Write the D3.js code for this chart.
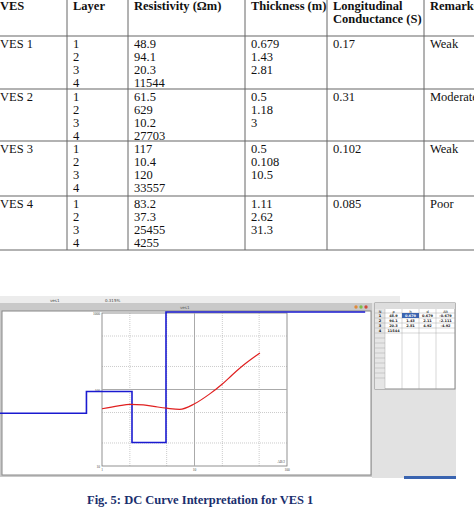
<!DOCTYPE html>
<html><head><meta charset="utf-8">
<script src="https://cdn.jsdelivr.net/npm/d3@7"></script>
<style>body{margin:0;background:#fff}svg{display:block}</style>
</head><body>
<svg id="c" width="474" height="509"></svg>
<script>
// ---- data ----
const tableHeaders = ["VES","Layer","Resistivity (Ωm)","Thickness (m)","Longitudinal|Conductance (S)","Remarks"];
const vesNames = ["VES 1","VES 2","VES 3","VES 4"];
const layerIds = ["1","2","3","4"];
const resistivity = [["48.9","94.1","20.3","11544"],["61.5","629","10.2","27703"],["117","10.4","120","33557"],["83.2","37.3","25455","4255"]];
const thickness = [["0.679","1.43","2.81"],["0.5","1.18","3"],["0.5","0.108","10.5"],["1.11","2.62","31.3"]];
const conductance = ["0.17","0.31","0.102","0.085"];
const remarks = ["Weak","Moderate","Weak","Poor"];
// VES1 model (layer rho and bottom depth)
const modelRho = [48.9, 94.1, 20.3, 11544];
const modelDepth = [0.679, 2.11, 4.92];
// apparent resistivity curve
const curveAB = [1,1.5,2,2.8,4,5,6.9,10,14.5,20,25.7,35,51];
const curveRho = [56,61,64,63,59,57,55,65,87,118,156,215,300];
const xTicks = [1,10,100];
const yTicks = [10,100,1000];
const gridX = [2,5,20,50];
const gridY = [20,50,200,500];
const panelCols = ["ρ","h","d","Alt"];
const panelRows = [["48.9","0.679","0.679","-0.679"],["94.1","1.43","2.11","-2.111"],["20.3","2.81","4.92","-4.92"],["11544","","",""]];
const caption = "Fig. 5: DC Curve Interpretation for VES 1";

const svg = d3.select("#c");
const serif = "'Liberation Serif','Times New Roman',serif";

// ---- table ----
const colX = [0,67,128,245,327,424,474];
const rowY = [0,36,89,141,196,250];
const tg = svg.append("g").attr("font-family",serif).attr("font-size",12.5).attr("fill","#111");
[36,89,141,196,250].forEach(y=>tg.append("line").attr("x1",0).attr("x2",474).attr("y1",y).attr("y2",y).attr("stroke","#666").attr("stroke-width",1.2));
colX.slice(1,6).forEach(x=>tg.append("line").attr("x1",x).attr("x2",x).attr("y1",0).attr("y2",250).attr("stroke","#666").attr("stroke-width",1));
tableHeaders.forEach((h,i)=>{
  h.split("|").forEach((t,k)=>tg.append("text").attr("x",colX[i]+(i?6:0)).attr("y",10+k*13).attr("font-weight","bold").text(t));
});
vesNames.forEach((v,r)=>{
  const y0=rowY[r+1]+12;
  tg.append("text").attr("x",0).attr("y",y0).text(v);
  layerIds.forEach((l,k)=>tg.append("text").attr("x",73).attr("y",y0+k*13).text(l));
  resistivity[r].forEach((t,k)=>tg.append("text").attr("x",134).attr("y",y0+k*13).text(t));
  thickness[r].forEach((t,k)=>tg.append("text").attr("x",251).attr("y",y0+k*13).text(t));
  tg.append("text").attr("x",333).attr("y",y0).text(conductance[r]);
  tg.append("text").attr("x",430).attr("y",y0).text(remarks[r]);
});

// ---- software screenshot ----
const sg = svg.append("g");
sg.append("rect").attr("x",0).attr("y",296).attr("width",400).attr("height",7).attr("fill","#ececec");
sg.append("text").attr("x",50).attr("y",302).attr("font-size",4).attr("font-family","DejaVu Sans").attr("fill","#444").text("ves1");
sg.append("text").attr("x",105).attr("y",302).attr("font-size",4).attr("font-family","DejaVu Sans").attr("fill","#444").text("0.315%");
sg.append("rect").attr("x",372).attr("y",303).attr("width",84).attr("height",175).attr("fill","#e2e2e2");
// window
sg.append("rect").attr("x",0).attr("y",303).attr("width",372).attr("height",174).attr("fill","#c9c9c9");
sg.append("rect").attr("x",2).attr("y",311).attr("width",369).attr("height",164).attr("fill","#fff").attr("stroke","#888");
[["#e08a3a",356],["#7cbf4a",361],["#d04a3a",366]].forEach(([c,x])=>sg.append("circle").attr("cx",x).attr("cy",307).attr("r",1.7).attr("fill",c));
sg.append("text").attr("x",180).attr("y",309).attr("font-size",4).attr("font-family","DejaVu Sans").attr("fill","#555").text("ves1");

const x = d3.scaleLog().domain([1,100]).range([102,287]);
const y = d3.scaleLog().domain([10,1000]).range([466,313]);
const pg = sg.append("g");
pg.append("rect").attr("x",102).attr("y",313).attr("width",185).attr("height",153).attr("fill","none").attr("stroke","#777").attr("stroke-width",0.8);
gridX.forEach(v=>pg.append("line").attr("x1",x(v)).attr("x2",x(v)).attr("y1",313).attr("y2",466).attr("stroke","#999").attr("stroke-width",0.5).attr("stroke-dasharray","1,1"));
gridY.forEach(v=>pg.append("line").attr("y1",y(v)).attr("y2",y(v)).attr("x1",102).attr("x2",287).attr("stroke","#999").attr("stroke-width",0.5).attr("stroke-dasharray","1,1"));
pg.append("line").attr("x1",x(10)).attr("x2",x(10)).attr("y1",313).attr("y2",466).attr("stroke","#aaa");
pg.append("line").attr("y1",y(100)).attr("y2",y(100)).attr("x1",102).attr("x2",287).attr("stroke","#aaa");
xTicks.forEach(v=>pg.append("text").attr("x",x(v)).attr("y",471).attr("font-size",3.5).attr("text-anchor","middle").attr("fill","#444").text(v));
yTicks.forEach(v=>pg.append("text").attr("x",100).attr("y",y(v)+2).attr("font-size",3.5).attr("text-anchor","end").attr("fill","#444").text(v));
pg.append("text").attr("x",285).attr("y",463).attr("font-size",3.5).attr("text-anchor","end").attr("fill","#444").text("AB/2");

// model step line
const xm = d3.scaleLog().domain([1,100]).range([102,287]);
const steps = [];
let left = 0.078;
modelRho.forEach((r,i)=>{
  const right = i<modelDepth.length?modelDepth[i]:700;
  steps.push([left,r],[right,r]); left=right;
});
const clipTop = 312;
pg.append("path").datum(steps)
  .attr("d",d3.line().x(d=>xm(d[0])).y(d=>Math.max(clipTop,y(d[1]))))
  .attr("fill","none").attr("stroke","#1a1ad0").attr("stroke-width",1.6);
// curve
pg.append("path").datum(curveAB.map((a,i)=>[a,curveRho[i]]))
  .attr("d",d3.line().curve(d3.curveMonotoneX).x(d=>x(d[0])).y(d=>y(d[1])))
  .attr("fill","none").attr("stroke","#e02020").attr("stroke-width",1.2);

// right parameter panel
const px=375, py=303;
sg.append("rect").attr("x",px).attr("y",py).attr("width",80).attr("height",86).attr("fill","#fff").attr("stroke","#888");
sg.append("rect").attr("x",px).attr("y",py).attr("width",80).attr("height",6).attr("fill","#ddd");
const pcw=[10,17,17,17,19];
const pcx=[px];pcw.forEach((w,i)=>pcx.push(pcx[i]+w));
sg.append("rect").attr("x",px).attr("y",py+6).attr("width",10).attr("height",80).attr("fill","#e6e6e6");
for(let r=0;r<14;r++) sg.append("line").attr("x1",px).attr("x2",r<5?px+80:px+10).attr("y1",py+10+r*5).attr("y2",py+10+r*5).attr("stroke","#999").attr("stroke-width",0.4);
pcx.slice(1,5).forEach(xx=>sg.append("line").attr("x1",xx).attr("x2",xx).attr("y1",py+6).attr("y2",py+86).attr("stroke","#999").attr("stroke-width",0.4));
["N",...panelCols].forEach((c,i)=>sg.append("text").attr("x",pcx[i]+pcw[i]/2).attr("y",py+9.5).attr("font-size",3.5).attr("text-anchor","middle").attr("font-family","DejaVu Sans").text(c));
sg.append("rect").attr("x",pcx[2]).attr("y",py+10).attr("width",17).attr("height",5).attr("fill","#3a64b0");
panelRows.forEach((row,r)=>{
  sg.append("text").attr("x",px+5).attr("y",py+14+r*5).attr("font-size",3.5).attr("text-anchor","middle").attr("font-weight","bold").attr("font-family","DejaVu Sans").text(r+1);
  row.forEach((t,c)=>sg.append("text").attr("x",pcx[c+1]+pcw[c+1]/2).attr("y",py+14+r*5).attr("font-size",3.5).attr("text-anchor","middle").attr("font-weight","bold").attr("font-family","DejaVu Sans").attr("fill",(r==0&&c==1)?"#fff":"#222").text(t));
});
sg.append("rect").attr("x",404).attr("y",476).attr("width",52).attr("height",3).attr("fill","#3a64b0");

// caption
svg.append("text").attr("x",87).attr("y",504).attr("font-family",serif).attr("font-weight","bold").attr("font-size",12.5).attr("fill","#1a2f6e").text(caption);
</script>
</body></html>
